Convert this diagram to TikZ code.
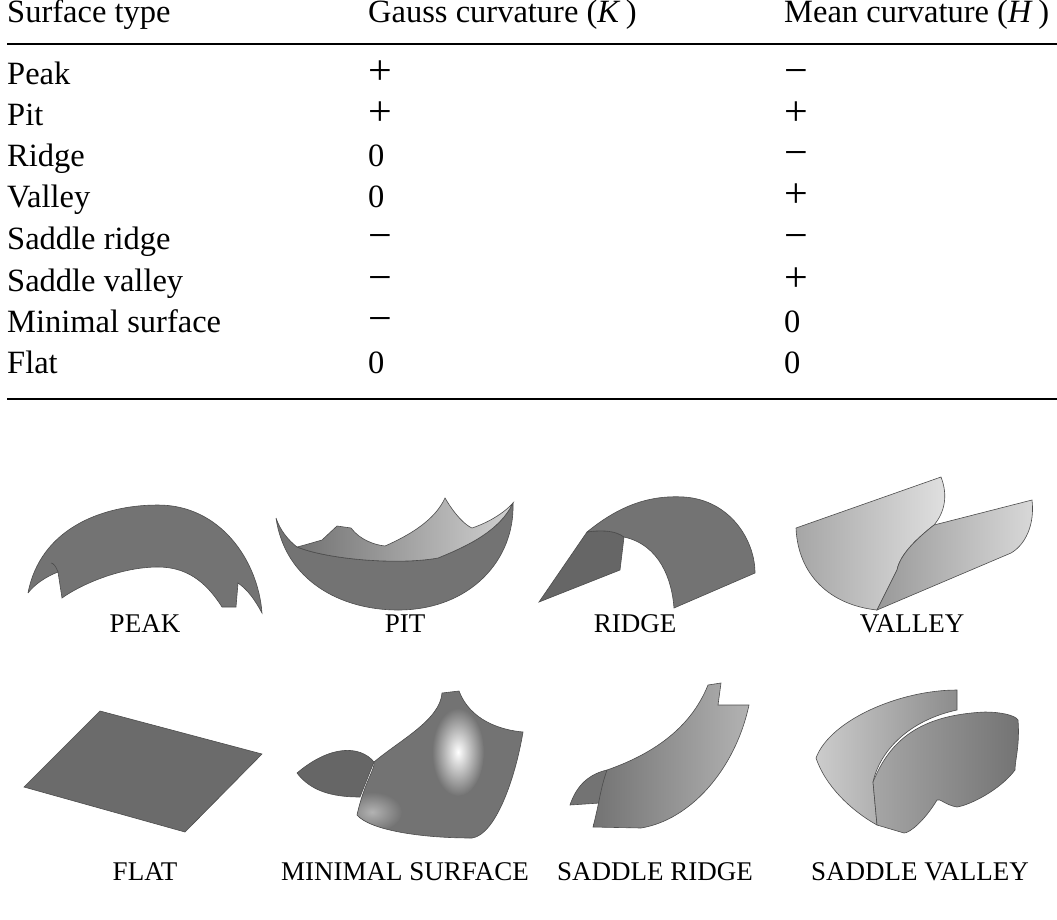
\documentclass[tikz,border=0pt]{standalone}
\usepackage{fontspec}
\setmainfont{Liberation Serif}
\begin{document}
\begin{tikzpicture}[x=1pt,y=-1pt,
  tx/.style={anchor=base west,inner sep=0pt,font=\fontsize{32.5}{34}\selectfont},
  sg/.style={anchor=base west,inner sep=0pt,font=\fontsize{42}{42}\selectfont},
  lab/.style={anchor=base,inner sep=0pt,font=\fontsize{27}{30}\selectfont},
  surf/.style={draw=black!70,line width=0.6pt,fill=black!55},
  lite/.style={draw=black!70,line width=0.6pt,left color=black!55,right color=black!18}]
\useasboundingbox (0,0) rectangle (1057,919);
% table
\node[tx] (h1) at (7,22) {Surface type};
\node[tx] (h2) at (368,22) {Gauss curvature (\textit{K}\,)};
\node[tx] (h3) at (784,22) {Mean curvature (\textit{H}\,)};
\draw[line width=1.5pt] (7,44) -- (1057,44);
\foreach \n/\a/\b/\y in {Peak/+/−/84, Pit/+/+/125, Ridge/0/−/166, Valley/0/+/207,
  Saddle ridge/−/−/249, Saddle valley/−/+/291, Minimal surface/−/0/332, Flat/0/0/373}{
  \node[tx] at (7,\y) {\n};
  \node[tx] at (368,\y) {\if0\a 0\else{\fontsize{42}{42}\selectfont\a}\fi};
  \node[tx] at (784,\y) {\if0\b 0\else{\fontsize{42}{42}\selectfont\b}\fi};
}
\draw[line width=2.2pt] (7,399) -- (1057,399);
% PEAK
\draw[surf] (28,593) .. controls (40,530) and (100,505) .. (158,505) .. controls (220,505) and (258,560) .. (262,613) .. controls (255,600) and (248,590) .. (238,583) -- (236,607) -- (222,607) .. controls (205,580) and (185,567) .. (158,567) .. controls (120,567) and (80,585) .. (62,598) -- (58,572) .. controls (45,577) and (34,585) .. (28,593);
\draw[black!70,line width=0.6pt] (58,572) .. controls (56,566) and (53,563) .. (51,563);
% PIT
\draw[surf] (276,518) .. controls (285,580) and (340,610) .. (398,610) .. controls (470,610) and (515,560) .. (513,503) .. controls (500,530) and (470,545) .. (438,558) .. controls (400,565) and (330,560) .. (297,547) .. controls (288,540) and (280,530) .. (276,518);
\draw[lite] (297,547) .. controls (305,545) and (315,542) .. (322,540) -- (337,526) -- (351,528) .. controls (360,540) and (375,545) .. (385,546) .. controls (410,535) and (435,520) .. (445,498) .. controls (455,515) and (465,525) .. (472,528) .. controls (490,522) and (505,512) .. (513,503) .. controls (500,530) and (470,545) .. (438,558) .. controls (400,565) and (330,560) .. (297,547);
% RIDGE
\draw[surf,fill=black!60] (539,602) -- (587,532) .. controls (600,530) and (615,530) .. (624,537) -- (620,570) -- cycle;
\draw[surf] (587,532) .. controls (620,505) and (650,495) .. (684,497) .. controls (730,500) and (755,540) .. (755,573) -- (674,608) .. controls (672,580) and (660,545) .. (624,537) .. controls (615,530) and (600,530) .. (587,532);
% VALLEY
\draw[lite,left color=black!35,right color=black!12] (796,528) -- (941,477) .. controls (948,495) and (945,512) .. (934,525) .. controls (915,540) and (900,555) .. (897,570) -- (877,610) .. controls (830,605) and (798,575) .. (796,528);
\draw[lite,left color=black!40,right color=black!15] (897,570) .. controls (900,555) and (915,540) .. (934,525) -- (1032,500) .. controls (1035,525) and (1025,545) .. (1011,553) -- (877,610) -- cycle;
% FLAT
\draw[surf,fill=black!58] (100,711) -- (262,754) -- (185,832) -- (24,787) -- cycle;
% MINIMAL SURFACE
\draw[surf,fill=black!60] (374,762) .. controls (360,745) and (330,745) .. (297,773) .. controls (310,790) and (330,797) .. (360,797) -- cycle;
\begin{scope}
\path[clip] (442,693) -- (459,691) .. controls (470,720) and (500,730) .. (523,732) .. controls (515,780) and (495,835) .. (472,838) .. controls (420,838) and (370,830) .. (357,815) .. controls (365,780) and (375,770) .. (374,762) .. controls (400,740) and (440,720) .. (442,693);
\fill[black!55] (290,680) rectangle (540,850);
\shade[inner color=white,outer color=black!55] (458,752) ellipse (26 and 44);
\shade[inner color=black!30,outer color=black!55] (372,812) ellipse (30 and 20);
\end{scope}
\draw[black!70,line width=0.6pt] (442,693) -- (459,691) .. controls (470,720) and (500,730) .. (523,732) .. controls (515,780) and (495,835) .. (472,838) .. controls (420,838) and (370,830) .. (357,815) .. controls (365,780) and (375,770) .. (374,762) .. controls (400,740) and (440,720) .. (442,693);
% SADDLE RIDGE
\draw[surf] (607,770) .. controls (585,775) and (575,790) .. (570,805) -- (600,803) -- cycle;
\draw[lite,left color=black!55,right color=black!30] (708,685) -- (721,683) -- (718,705) -- (749,705) .. controls (735,770) and (690,820) .. (641,828) -- (593,827) .. controls (600,800) and (600,790) .. (607,770) .. controls (650,755) and (690,730) .. (708,685);
% SADDLE VALLEY
\draw[lite,left color=black!20,right color=black!45] (816,758) .. controls (830,720) and (900,690) .. (957,690) -- (957,710) .. controls (910,720) and (880,750) .. (873,782) -- (877,825) .. controls (850,810) and (825,785) .. (816,758);
\draw[lite,left color=black!35,right color=black!55] (873,782) .. controls (890,740) and (920,715) .. (985,712) .. controls (1000,712) and (1015,715) .. (1018,720) .. controls (1020,745) and (1015,760) .. (1015,770) .. controls (1000,790) and (970,805) .. (957,807) .. controls (945,805) and (940,798) .. (937,800) .. controls (925,820) and (910,833) .. (904,833) -- (877,825) -- cycle;
% labels
\node[lab] (l1) at (145,632) {PEAK};
\node[lab] (l2) at (405,632) {PIT};
\node[lab] (l3) at (635,632) {RIDGE};
\node[lab] (l4) at (912,632) {VALLEY};
\node[lab] (l5) at (145,880) {FLAT};
\node[lab] (l6) at (405,880) {MINIMAL SURFACE};
\node[lab] (l7) at (655,880) {SADDLE RIDGE};
\node[lab] (l8) at (920,880) {SADDLE VALLEY};
\end{tikzpicture}
\end{document}
